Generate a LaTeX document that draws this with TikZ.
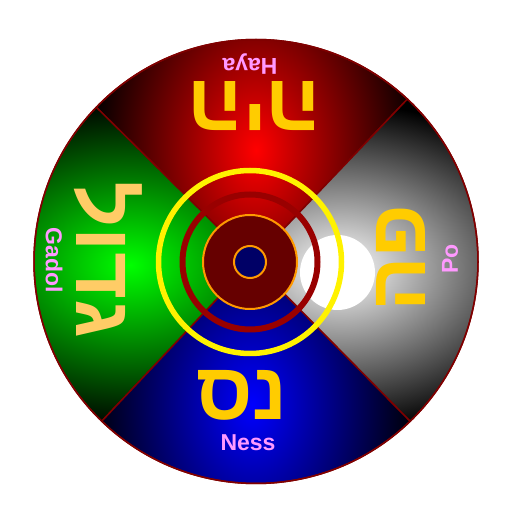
\documentclass[tikz,border=0pt]{standalone}
\usepackage{fontspec}
\setsansfont{Liberation Sans}
\newfontfamily\hebfont[Script=Hebrew]{Liberation Sans}
\TeXXeTstate=1
\usepackage{tikz}
\usetikzlibrary{calc}

\definecolor{gold}{HTML}{FFCC00}
\definecolor{peach}{HTML}{FFCC66}
\definecolor{pink}{HTML}{FF99FF}
\definecolor{rimred}{HTML}{800000}
\definecolor{ringred}{HTML}{990000}
\definecolor{hubred}{HTML}{660000}
\definecolor{hubnavy}{HTML}{000066}
\definecolor{trim}{HTML}{FF9900}

\newcommand\wedgepath[2]{(hub) -- ($(mid)+(#1:\rad)$) arc[start angle=#1, end angle=#2, radius=\rad] -- cycle}

\begin{document}
\begin{tikzpicture}[
    x=1pt, y=1pt,
    rim/.style={draw=rimred, line width=1.5pt},
    heb/.style={
        font=\hebfont\bfseries\fontsize{81}{81}\selectfont,
        text=gold,
        inner sep=0pt
    },
    lbl/.style={
        font=\sffamily\bfseries\fontsize{23}{23}\selectfont,
        text=pink,
        inner sep=0pt
    }
]
\useasboundingbox (0,0) rectangle (512,512);
\def\rad{222}
\coordinate (mid) at (256,250.5);
\coordinate (hub) at (252.5,250.5);
\coordinate (axis) at (250,250);

% Four sides of the top
\foreach \from/\to/\tint/\sx/\sy/\rx/\ry in {
    47/136/red/256/362/165/230,
    136/226/green/130/247/230/165,
    226/314/blue/252/107/165/230,
    314/407/white/340/244/230/165}
{
    \fill[black] \wedgepath{\from}{\to};
    \begin{scope}
        \clip \wedgepath{\from}{\to};
        \shade[inner color=\tint, outer color=black] (\sx,\sy) ellipse [x radius=\rx, y radius=\ry];
    \end{scope}
    \draw[rim] \wedgepath{\from}{\to};
}
\draw[rim] (mid) circle (\rad);
\fill[white] (337.5,239.5) circle (37.5);

% Letters
\node[heb, rotate=180] (hey) at (254,406) {\beginR היה\endR};
\node[heb, text=peach, rotate=-90] (gimel) at (108,252) {\beginR גדול\endR};
\node[heb, rotate=90] (pey) at (401,254) {\beginR פה\endR};
\node[heb] (nun) at (242,117) {\beginR נס\endR};

% Names
\node[lbl, rotate=180] (haya) at (250,448) {Haya};
\node[lbl, rotate=-90] (gadol) at (54,252) {Gadol};
\node[lbl, rotate=90] (po) at (450,253) {Po};
\node[lbl] (ness) at (248,69) {Ness};

% Handle
\draw[yellow, line width=5.5] (axis) circle (91.5);
\draw[ringred, line width=6] (axis) circle (67.5);
\filldraw[fill=hubred, draw=trim, line width=2] (axis) circle (47);
\filldraw[fill=hubnavy, draw=trim, line width=2] (axis) circle (16);
\end{tikzpicture}
\end{document}
